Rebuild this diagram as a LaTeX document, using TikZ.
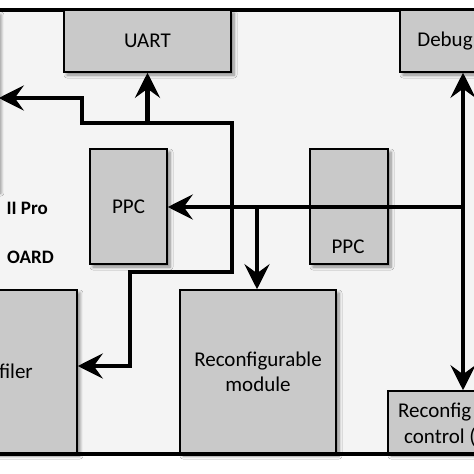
\documentclass[tikz,border=0pt]{standalone}
\usepackage{fontspec}
\setmainfont{Carlito}
\usetikzlibrary{arrows.meta,shadows.blur}
\definecolor{bgc}{HTML}{F4F4F4}
\definecolor{boxc}{HTML}{C9C9C9}
\tikzset{
  blk/.style={draw=black, line width=1.5pt, fill=boxc, inner sep=0pt,
    blur shadow={shadow xshift=3pt, shadow yshift=-3pt, shadow blur steps=6, shadow blur radius=3pt, shadow opacity=45},
    font=\fontsize{21}{25}\selectfont, align=center},
  lbl/.style={inner sep=0pt, font=\fontsize{21}{25}\selectfont},
  blbl/.style={inner sep=0pt, font=\fontsize{19}{22}\selectfont\bfseries},
  bus/.style={line width=4.7pt, line join=miter, line cap=rect},
  arr/.style={line width=4.7pt, -{Stealth[length=25pt,width=25pt,inset=9pt]}},
}
\begin{document}
\begin{tikzpicture}[x=1pt,y=-1pt]
\useasboundingbox (0,0) rectangle (474,474);
\clip (0,0) rectangle (474,474);
\fill[white] (0,0) rectangle (474,474);
\fill[bgc] (-10,10) rectangle (484,454);
\draw[line width=4pt] (-10,10) -- (484,10);
\draw[line width=4pt] (-10,454) -- (484,454);
% boxes
\node[blk, minimum width=100pt, minimum height=178pt] (leftbox) at (-52,101) {};
\node[blk, minimum width=167pt, minimum height=62pt] (uart) at (147.5,41) {UART};
\node[blk, minimum width=90pt, minimum height=62pt] (debug) at (445,41) {Debug};
\node[blk, minimum width=77pt, minimum height=115pt] (ppcL) at (128.5,206.5) {PPC};
\node[blk, minimum width=78pt, minimum height=115pt] (ppcR) at (349,206.5) {};
\node[lbl] (ppcRt) at (348,247) {PPC};
\node[blk, minimum width=156pt, minimum height=163pt] (rmod) at (258,371.5) {Reconfigurable\\module};
\node[blk, minimum width=177pt, minimum height=163pt] (prof) at (-11.5,371.5) {};
\node[lbl, anchor=east] (proft) at (33,371) {filer};
\node[blk, minimum width=132pt, minimum height=62pt] (rcc) at (454,422) {};
\node[lbl, anchor=west] (rcct1) at (398,412) {Reconfig};
\node[lbl, anchor=west] (rcct2) at (404,437) {control (};
\node[blbl, anchor=east] (t1) at (48,208) {II Pro};
\node[blbl, anchor=east] (t2) at (54,257) {OARD};
% connectors
\coordinate (a1) at (82,98);
\coordinate (a2) at (82,123);
\coordinate (a3) at (232,123);
\coordinate (a4) at (232,272);
\coordinate (a5) at (130,272);
\coordinate (a6) at (130,366);
\draw[bus] (a1) -- (a2) -- (a3) -- (a4) -- (a5) -- (a6);
\draw[arr] (a1) -- (leftbox.east |- a1);
\draw[arr] (a6) -- (prof.east |- a6);
\draw[arr] (uart.south |- a2) -- (uart.south);
\coordinate (b1) at (463,207);
\coordinate (b2) at (257,207);
\draw[arr] (b1) -- (ppcL.east |- b1);
\draw[arr] (b1) -- (b1 |- debug.south);
\draw[arr] (b1) -- (b1 |- rcc.north);
\draw[arr] (b2) -- (b2 |- rmod.north);
\end{tikzpicture}
\end{document}
